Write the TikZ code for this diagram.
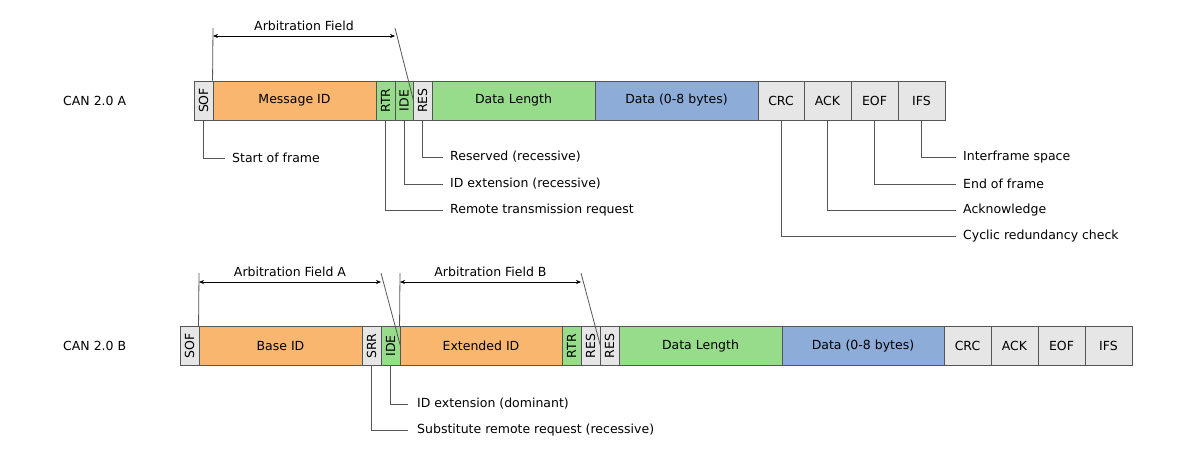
\documentclass[tikz,border=0pt]{standalone}
\usepackage{fontspec}
\setmainfont{DejaVu Sans}
\usetikzlibrary{arrows.meta}
\definecolor{cor}{HTML}{F9B66E}
\definecolor{cgr}{HTML}{97DC8A}
\definecolor{cbl}{HTML}{8EACD8}
\definecolor{cgy}{HTML}{E6E6E6}
\definecolor{cln}{HTML}{555555}
\begin{document}
\begin{tikzpicture}[x=1pt,y=-1pt,
  fld/.style={draw=cln,line width=0.9pt,inner sep=0pt,font=\fontsize{12.5}{14}\selectfont},
  lead/.style={draw=cln,line width=0.8pt},
  lbl/.style={anchor=west,inner sep=0pt,font=\fontsize{12.5}{14}\selectfont},
  dim/.style={draw=black,line width=0.6pt,{Stealth[length=5pt,width=4pt]}-{Stealth[length=5pt,width=4pt]}}]
\useasboundingbox (0,0) rectangle (1204,455);
\newcommand{\fh}[6]{\node[fld,fill=#5,minimum width=#3-#2,minimum height=#6] (#1) at ({(#2+#3)/2},#4) {#5x};}
% top row y 81..120, center 100.5, h 39
\def\F#1#2#3#4#5#6{\node[fld,fill=#5,minimum width={#3-#2},minimum height=39] (#1) at ({(#2+#3)/2},#6) {#4};}
\def\R#1#2#3#4#5#6{\node[fld,fill=#5,rotate=90,minimum width=39,minimum height={#3-#2}] (#1) at ({(#2+#3)/2},#6) {#4};}
\R{aSOF}{194}{213}{SOF}{cgy}{100.5}
\F{aMID}{213}{376}{Message ID}{cor}{100.5}
\R{aRTR}{376}{395}{RTR}{cgr}{100.5}
\R{aIDE}{395}{413}{IDE}{cgr}{100.5}
\R{aRES}{413}{432}{RES}{cgy}{100.5}
\F{aDL}{432}{595}{Data Length}{cgr}{100.5}
\F{aDAT}{595}{758}{Data (0-8 bytes)}{cbl}{100.5}
\F{aCRC}{758}{804}{CRC}{cgy}{100.5}
\F{aACK}{804}{851}{ACK}{cgy}{100.5}
\F{aEOF}{851}{898}{EOF}{cgy}{100.5}
\F{aIFS}{898}{945}{IFS}{cgy}{100.5}
\node[lbl] (ta) at (63,101) {CAN 2.0 A};
% bottom row y 327..365
\R{bSOF}{180}{199}{SOF}{cgy}{346}
\F{bBID}{199}{362}{Base ID}{cor}{346}
\R{bSRR}{362}{381}{SRR}{cgy}{346}
\R{bIDE}{381}{400}{IDE}{cgr}{346}
\F{bEID}{400}{562}{Extended ID}{cor}{346}
\R{bRTR}{562}{581}{RTR}{cgr}{346}
\R{bRES1}{581}{600}{RES}{cgy}{346}
\R{bRES2}{600}{619}{RES}{cgy}{346}
\F{bDL}{619}{782}{Data Length}{cgr}{346}
\F{bDAT}{782}{944}{Data (0-8 bytes)}{cbl}{346}
\F{bCRC}{944}{991}{CRC}{cgy}{346}
\F{bACK}{991}{1038}{ACK}{cgy}{346}
\F{bEOF}{1038}{1085}{EOF}{cgy}{346}
\F{bIFS}{1085}{1132}{IFS}{cgy}{346}
\node[lbl] (tb) at (63,346) {CAN 2.0 B};
% leaders top
\node[lbl] (l1) at (232,158) {Start of frame};
\node[lbl] (l2) at (450,157) {Reserved (recessive)};
\node[lbl] (l3) at (450,184) {ID extension (recessive)};
\node[lbl] (l4) at (450,210) {Remote transmission request};
\node[lbl] (l5) at (963,157) {Interframe space};
\node[lbl] (l6) at (963,184) {End of frame};
\node[lbl] (l7) at (963,210) {Acknowledge};
\node[lbl] (l8) at (963,236) {Cyclic redundancy check};
\draw[lead] (aSOF.west) |- ([xshift=-7pt]l1.west);
\draw[lead] (aRES.west) |- ([xshift=-7pt]l2.west);
\draw[lead] (aIDE.west) |- ([xshift=-7pt]l3.west);
\draw[lead] (aRTR.west) |- ([xshift=-7pt]l4.west);
\draw[lead] (aIFS.south) |- ([xshift=-7pt]l5.west);
\draw[lead] (aEOF.south) |- ([xshift=-7pt]l6.west);
\draw[lead] (aACK.south) |- ([xshift=-7pt]l7.west);
\draw[lead] (aCRC.south) |- ([xshift=-7pt]l8.west);
% leaders bottom
\node[lbl] (m1) at (417,404) {ID extension (dominant)};
\node[lbl] (m2) at (417,430) {Substitute remote request (recessive)};
\draw[lead] (bIDE.west) |- ([xshift=-9pt]m1.west);
\draw[lead] (bSRR.west) |- ([xshift=-9pt]m2.west);
% arbitration fields
\coordinate (a1) at (213,28); \coordinate (a2) at (395,28);
\draw[lead] (a1) -- (aMID.north west);
\draw[lead] (a2) -- (aIDE.south);
\draw[dim] (213,36) -- node[above=2pt,font=\fontsize{12.5}{14}\selectfont] (af) {Arbitration Field} (395,36);
\coordinate (b1) at (199,273); \coordinate (b2) at (381,273);
\coordinate (b3) at (400,273); \coordinate (b4) at (581,273);
\draw[lead] (b1) -- (bBID.north west);
\draw[lead] (b2) -- (bIDE.south);
\draw[lead] (b3) -- (bEID.north west);
\draw[lead] (b4) -- (bRES1.south);
\draw[dim] (199,282) -- node[above=2pt,font=\fontsize{12.5}{14}\selectfont] (afa) {Arbitration Field A} (381,282);
\draw[dim] (400,282) -- node[above=2pt,font=\fontsize{12.5}{14}\selectfont] (afb) {Arbitration Field B} (581,282);
\end{tikzpicture}
\end{document}
